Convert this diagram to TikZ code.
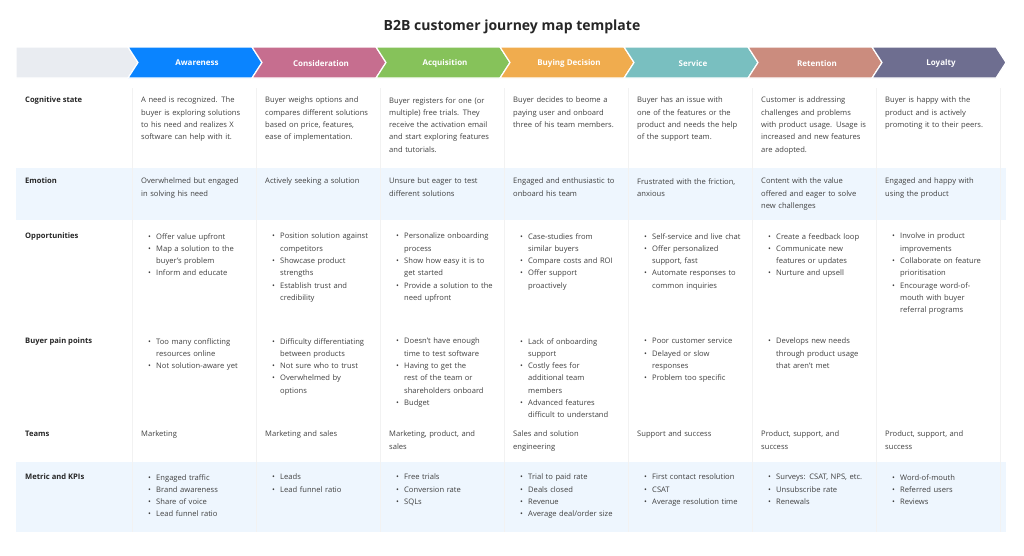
\documentclass[tikz,border=0pt]{standalone}
\usepackage{fontspec}
\setmainfont{Open Sans}
\newcommand\nohy{\hyphenpenalty=10000\relax}
\newcommand\nohyb{\hyphenpenalty=10000\relax\leftskip=8pt\relax}
\begin{document}
\begin{tikzpicture}[x=1pt,y=-1pt,
  cell/.style={anchor=north west,inner sep=0pt,text width=106pt,align=left,font=\fontsize{7.6}{12.3}\selectfont,execute at begin node=\nohy,text=black!75},
  blt/.style={anchor=north west,inner sep=0pt,text width=97pt,align=left,font=\fontsize{7.6}{12.3}\selectfont,execute at begin node=\nohyb,text=black!75},
  lab/.style={anchor=north west,inner sep=0pt,font=\fontsize{7.6}{12.3}\selectfont\bfseries,text=black!85},
  chev/.style={draw=white,line width=1.2pt},
  ctext/.style={text=white,font=\fontsize{8}{9}\selectfont\bfseries}]
\useasboundingbox (0,0) rectangle (1024,555);
\definecolor{cA}{HTML}{0A84FF}\definecolor{cB}{HTML}{C66E8F}\definecolor{cC}{HTML}{86C25A}
\definecolor{cD}{HTML}{F0AC4E}\definecolor{cE}{HTML}{79BFC0}\definecolor{cF}{HTML}{CB8C7E}
\definecolor{cG}{HTML}{6E6E90}\definecolor{band}{HTML}{EEF6FE}\definecolor{gr}{HTML}{E9ECF1}
\node[font=\fontsize{14}{16}\selectfont\bfseries,text=black!85] (title) at (512,27) {B2B customer journey map template};
% bands
\fill[band] (16,168) rectangle (1006,220);
\fill[band] (16,462) rectangle (1006,532);
\foreach \i in {0,...,7}{\draw[black!5,line width=0.6pt] (132+124*\i,88) -- (132+124*\i,532);}
% chevrons
\fill[gr,chev] (16,47) -- (128,47) -- (138,62.5) -- (128,78) -- (16,78) -- cycle;
\foreach \c/\t [count=\i from 0] in {cA/Awareness,cB/Consideration,cC/Acquisition,cD/Buying Decision,cE/Service,cF/Retention,cG/Loyalty}{
  \pgfmathsetmacro\a{128+124*\i}
  \fill[\c,chev] (\a,47) -- (\a+124,47) -- (\a+134,62.5) -- (\a+124,78) -- (\a,78) -- (\a+10,62.5) -- cycle;
  \node[ctext] (h\i) at (\a+69,63) {\t};
}
\newcommand\bi{\llap{\makebox[8pt][l]{•}}}
\newcommand\bl{\par\noindent\bi}
% labels
\node[lab] (l1) at (25,97) {Cognitive state};
\node[lab] (l2) at (25,178) {Emotion};
\node[lab] (l3) at (25,233) {Opportunities};
\node[lab] (l4) at (25,338) {Buyer pain points};
\node[lab] (l5) at (25,431) {Teams};
\node[lab] (l6) at (25,474) {Metric and KPIs};
% cognitive
\node[cell] (c1) at (141,97) {A need is recognized. The buyer is exploring solutions to his need and realizes X software can help with it.};
\node[cell] (c2) at (265,97) {Buyer weighs options and compares different solutions based on price, features, ease of implementation.};
\node[cell] (c3) at (389,97) {Buyer registers for one (or multiple) free trials. They receive the activation email and start exploring features and tutorials.};
\node[cell] (c4) at (513,97) {Buyer decides to beome a paying user and onboard three of his team members.};
\node[cell] (c5) at (637,97) {Buyer has an issue with one of the features or the product and needs the help of the support team.};
\node[cell] (c6) at (761,97) {Customer is addressing challenges and problems with product usage. Usage is increased and new features are adopted.};
\node[cell] (c7) at (885,97) {Buyer is happy with the product and is actively promoting it to their peers.};
% emotion
\node[cell] (e1) at (141,178) {Overwhelmed but engaged in solving his need};
\node[cell] (e2) at (265,178) {Actively seeking a solution};
\node[cell] (e3) at (389,178) {Unsure but eager to test different solutions};
\node[cell] (e4) at (513,178) {Engaged and enthusiastic to onboard his team};
\node[cell] (e5) at (637,178) {Frustrated with the friction, anxious};
\node[cell] (e6) at (761,178) {Content with the value offered and eager to solve new challenges};
\node[cell] (e7) at (885,178) {Engaged and happy with using the product};
% opportunities
\node[blt] (o1) at (148,233) {\bi Offer value upfront\bl Map a solution to the buyer's problem\bl Inform and educate};
\node[blt] (o2) at (272,233) {\bi Position solution against competitors\bl Showcase product strengths\bl Establish trust and credibility};
\node[blt] (o3) at (396,233) {\bi Personalize onboarding process\bl Show how easy it is to get started\bl Provide a solution to the need upfront};
\node[blt] (o4) at (520,233) {\bi Case-studies from similar buyers\bl Compare costs and ROI\bl Offer support proactively};
\node[blt] (o5) at (644,233) {\bi Self-service and live chat\bl Offer personalized support, fast\bl Automate responses to common inquiries};
\node[blt] (o6) at (768,233) {\bi Create a feedback loop\bl Communicate new features or updates\bl Nurture and upsell};
\node[blt] (o7) at (892,233) {\bi Involve in product improvements\bl Collaborate on feature prioritisation\bl Encourage word-of-mouth with buyer referral programs};
% pain points
\node[blt] (p1) at (148,338) {\bi Too many conflicting resources online\bl Not solution-aware yet};
\node[blt] (p2) at (272,338) {\bi Difficulty differentiating between products\bl Not sure who to trust\bl Overwhelmed by options};
\node[blt] (p3) at (396,338) {\bi Doesn't have enough time to test software\bl Having to get the rest of the team or shareholders onboard\bl Budget};
\node[blt] (p4) at (520,338) {\bi Lack of onboarding support\bl Costly fees for additional team members\bl Advanced features difficult to understand};
\node[blt] (p5) at (644,338) {\bi Poor customer service\bl Delayed or slow responses\bl Problem too specific};
\node[blt] (p6) at (768,338) {\bi Develops new needs through product usage that aren't met};
% teams
\node[cell] (t1) at (141,431) {Marketing};
\node[cell] (t2) at (265,431) {Marketing and sales};
\node[cell] (t3) at (389,431) {Marketing, product, and sales};
\node[cell] (t4) at (513,431) {Sales and solution engineering};
\node[cell] (t5) at (637,431) {Support and success};
\node[cell] (t6) at (761,431) {Product, support, and success};
\node[cell] (t7) at (885,431) {Product, support, and success};
% metrics
\node[blt] (m1) at (148,474) {\bi Engaged traffic\bl Brand awareness\bl Share of voice\bl Lead funnel ratio};
\node[blt] (m2) at (272,474) {\bi Leads\bl Lead funnel ratio};
\node[blt] (m3) at (396,474) {\bi Free trials\bl Conversion rate\bl SQLs};
\node[blt] (m4) at (520,474) {\bi Trial to paid rate\bl Deals closed\bl Revenue\bl Average deal/order size};
\node[blt] (m5) at (644,474) {\bi First contact resolution\bl CSAT\bl Average resolution time};
\node[blt] (m6) at (768,474) {\bi Surveys: CSAT, NPS, etc.\bl Unsubscribe rate\bl Renewals};
\node[blt] (m7) at (892,474) {\bi Word-of-mouth\bl Referred users\bl Reviews};
\end{tikzpicture}
\end{document}
